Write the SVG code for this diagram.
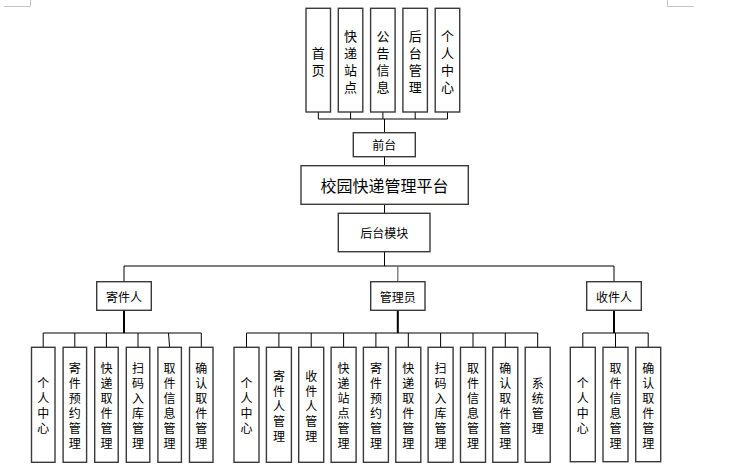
<svg xmlns="http://www.w3.org/2000/svg" width="733" height="470" viewBox="0 0 733 470">
<style>
.box{fill:#fff;stroke:#3a3a3a;stroke-width:1.4}
.t{font-family:"Noto Sans CJK SC","Noto Sans",sans-serif;font-size:12px;fill:#000;text-anchor:middle;dominant-baseline:central}
.tt{font-size:13px}
.big{font-size:16px}
.ln{stroke:#000;stroke-width:1;fill:none}
.lg{stroke:#666;stroke-width:1.2;fill:none}
.lt{stroke:#000;stroke-width:2;fill:none}
.mark{stroke:#c4c4c4;stroke-width:1;fill:none}
</style>
<rect width="733" height="470" fill="#fff"/>
<path class="mark" d="M4,6.5H30.5V0M667.5,0V6.5H694"/>
<g id="connectors">
<path class="ln" d="M318.3,112V119H447.5V112M350.6,112V119M382.9,112V119M415.2,112V119"/>
<path class="ln" d="M384.5,119V132.7M384.5,156.7V165.7M384.5,204.3V213.3M384.5,251.7V266"/>
<path class="ln" d="M124,266H614M124,266V281.7M614,266V281.7"/>
<path class="lg" d="M397.8,266V281.7"/>
<path class="lt" d="M124,310.3V333M397.8,310.3V333M614,310.3V333"/>
<path class="ln" d="M43.2,333H201.3M43.2,333V347.3M74.8,333V347.3M106.4,333V347.3M138,333V347.3M168.5,333L169.6,347.3M201.3,333V347.3"/>
<path class="ln" d="M246.5,333H537.7M246.5,333V347.3M278.9,333V347.3M311.2,333V347.3M343.6,333V347.3M375.9,333V347.3M408.3,333V347.3M440.6,333V347.3M473,333V347.3M505.3,333V347.3M537.7,333V347.3"/>
<path class="ln" d="M582.8,333H648.2M582.8,333V347.3M615.5,333V347.3M648.2,333V347.3"/>
</g>
<g id="n-home"><rect class="box" x="306" y="8.3" width="24.5" height="103.7"/><text class="t tt"><tspan x="318.3" y="51.5">首</tspan><tspan x="318.3" y="68.5">页</tspan></text></g>
<g id="n-station"><rect class="box" x="338.3" y="8.3" width="24.5" height="103.7"/><text class="t tt"><tspan x="350.6" y="34.5">快</tspan><tspan x="350.6" y="51.5">递</tspan><tspan x="350.6" y="68.5">站</tspan><tspan x="350.6" y="85.5">点</tspan></text></g>
<g id="n-notice"><rect class="box" x="370.6" y="8.3" width="24.5" height="103.7"/><text class="t tt"><tspan x="382.9" y="34.5">公</tspan><tspan x="382.9" y="51.5">告</tspan><tspan x="382.9" y="68.5">信</tspan><tspan x="382.9" y="85.5">息</tspan></text></g>
<g id="n-admin"><rect class="box" x="402.9" y="8.3" width="24.5" height="103.7"/><text class="t tt"><tspan x="415.2" y="34.5">后</tspan><tspan x="415.2" y="51.5">台</tspan><tspan x="415.2" y="68.5">管</tspan><tspan x="415.2" y="85.5">理</tspan></text></g>
<g id="n-personal"><rect class="box" x="435.2" y="8.3" width="24.5" height="103.7"/><text class="t tt"><tspan x="447.5" y="34.5">个</tspan><tspan x="447.5" y="51.5">人</tspan><tspan x="447.5" y="68.5">中</tspan><tspan x="447.5" y="85.5">心</tspan></text></g>
<g id="n-front"><rect class="box" x="353.3" y="132.7" width="62" height="24"/><text class="t" x="384.3" y="144.7">前台</text></g>
<g id="n-platform"><rect class="box" x="301" y="165.7" width="167.3" height="38.6"/><text class="t big" x="384.6" y="185">校园快递管理平台</text></g>
<g id="n-backend"><rect class="box" x="338.3" y="213.3" width="91.7" height="38.4"/><text class="t" x="384.2" y="232.5">后台模块</text></g>
<g id="n-sender"><rect class="box" x="96.7" y="281.7" width="54.6" height="28.6"/><text class="t" x="124" y="296">寄件人</text></g>
<g id="n-manager"><rect class="box" x="370.7" y="281.7" width="54.3" height="28.6"/><text class="t" x="397.8" y="296">管理员</text></g>
<g id="n-receiver"><rect class="box" x="586.7" y="281.7" width="54.6" height="28.6"/><text class="t" x="614" y="296">收件人</text></g>
<g id="s1"><rect class="box" x="31.5" y="347.3" width="23.5" height="115"/><text class="t"><tspan x="43.2" y="382.3">个</tspan><tspan x="43.2" y="397.3">人</tspan><tspan x="43.2" y="412.3">中</tspan><tspan x="43.2" y="427.3">心</tspan></text></g>
<g id="s2"><rect class="box" x="63.1" y="347.3" width="23.5" height="115"/><text class="t"><tspan x="74.8" y="367.3">寄</tspan><tspan x="74.8" y="382.3">件</tspan><tspan x="74.8" y="397.3">预</tspan><tspan x="74.8" y="412.3">约</tspan><tspan x="74.8" y="427.3">管</tspan><tspan x="74.8" y="442.3">理</tspan></text></g>
<g id="s3"><rect class="box" x="94.7" y="347.3" width="23.5" height="115"/><text class="t"><tspan x="106.4" y="367.3">快</tspan><tspan x="106.4" y="382.3">递</tspan><tspan x="106.4" y="397.3">取</tspan><tspan x="106.4" y="412.3">件</tspan><tspan x="106.4" y="427.3">管</tspan><tspan x="106.4" y="442.3">理</tspan></text></g>
<g id="s4"><rect class="box" x="126.3" y="347.3" width="23.5" height="115"/><text class="t"><tspan x="138" y="367.3">扫</tspan><tspan x="138" y="382.3">码</tspan><tspan x="138" y="397.3">入</tspan><tspan x="138" y="412.3">库</tspan><tspan x="138" y="427.3">管</tspan><tspan x="138" y="442.3">理</tspan></text></g>
<g id="s5"><rect class="box" x="157.9" y="347.3" width="23.5" height="115"/><text class="t"><tspan x="169.6" y="367.3">取</tspan><tspan x="169.6" y="382.3">件</tspan><tspan x="169.6" y="397.3">信</tspan><tspan x="169.6" y="412.3">息</tspan><tspan x="169.6" y="427.3">管</tspan><tspan x="169.6" y="442.3">理</tspan></text></g>
<g id="s6"><rect class="box" x="189.5" y="347.3" width="23.5" height="115"/><text class="t"><tspan x="201.3" y="367.3">确</tspan><tspan x="201.3" y="382.3">认</tspan><tspan x="201.3" y="397.3">取</tspan><tspan x="201.3" y="412.3">件</tspan><tspan x="201.3" y="427.3">管</tspan><tspan x="201.3" y="442.3">理</tspan></text></g>
<g id="m1"><rect class="box" x="234" y="347.3" width="25" height="115"/><text class="t"><tspan x="246.5" y="382.3">个</tspan><tspan x="246.5" y="397.3">人</tspan><tspan x="246.5" y="412.3">中</tspan><tspan x="246.5" y="427.3">心</tspan></text></g>
<g id="m2"><rect class="box" x="266.4" y="347.3" width="25" height="115"/><text class="t"><tspan x="278.9" y="374.8">寄</tspan><tspan x="278.9" y="389.8">件</tspan><tspan x="278.9" y="404.8">人</tspan><tspan x="278.9" y="419.8">管</tspan><tspan x="278.9" y="434.8">理</tspan></text></g>
<g id="m3"><rect class="box" x="298.7" y="347.3" width="25" height="115"/><text class="t"><tspan x="311.2" y="374.8">收</tspan><tspan x="311.2" y="389.8">件</tspan><tspan x="311.2" y="404.8">人</tspan><tspan x="311.2" y="419.8">管</tspan><tspan x="311.2" y="434.8">理</tspan></text></g>
<g id="m4"><rect class="box" x="331.1" y="347.3" width="25" height="115"/><text class="t"><tspan x="343.6" y="367.3">快</tspan><tspan x="343.6" y="382.3">递</tspan><tspan x="343.6" y="397.3">站</tspan><tspan x="343.6" y="412.3">点</tspan><tspan x="343.6" y="427.3">管</tspan><tspan x="343.6" y="442.3">理</tspan></text></g>
<g id="m5"><rect class="box" x="363.4" y="347.3" width="25" height="115"/><text class="t"><tspan x="375.9" y="367.3">寄</tspan><tspan x="375.9" y="382.3">件</tspan><tspan x="375.9" y="397.3">预</tspan><tspan x="375.9" y="412.3">约</tspan><tspan x="375.9" y="427.3">管</tspan><tspan x="375.9" y="442.3">理</tspan></text></g>
<g id="m6"><rect class="box" x="395.8" y="347.3" width="25" height="115"/><text class="t"><tspan x="408.3" y="367.3">快</tspan><tspan x="408.3" y="382.3">递</tspan><tspan x="408.3" y="397.3">取</tspan><tspan x="408.3" y="412.3">件</tspan><tspan x="408.3" y="427.3">管</tspan><tspan x="408.3" y="442.3">理</tspan></text></g>
<g id="m7"><rect class="box" x="428.1" y="347.3" width="25" height="115"/><text class="t"><tspan x="440.6" y="367.3">扫</tspan><tspan x="440.6" y="382.3">码</tspan><tspan x="440.6" y="397.3">入</tspan><tspan x="440.6" y="412.3">库</tspan><tspan x="440.6" y="427.3">管</tspan><tspan x="440.6" y="442.3">理</tspan></text></g>
<g id="m8"><rect class="box" x="460.5" y="347.3" width="25" height="115"/><text class="t"><tspan x="473" y="367.3">取</tspan><tspan x="473" y="382.3">件</tspan><tspan x="473" y="397.3">信</tspan><tspan x="473" y="412.3">息</tspan><tspan x="473" y="427.3">管</tspan><tspan x="473" y="442.3">理</tspan></text></g>
<g id="m9"><rect class="box" x="492.8" y="347.3" width="25" height="115"/><text class="t"><tspan x="505.3" y="367.3">确</tspan><tspan x="505.3" y="382.3">认</tspan><tspan x="505.3" y="397.3">取</tspan><tspan x="505.3" y="412.3">件</tspan><tspan x="505.3" y="427.3">管</tspan><tspan x="505.3" y="442.3">理</tspan></text></g>
<g id="m10"><rect class="box" x="525.2" y="347.3" width="25" height="115"/><text class="t"><tspan x="537.7" y="382.3">系</tspan><tspan x="537.7" y="397.3">统</tspan><tspan x="537.7" y="412.3">管</tspan><tspan x="537.7" y="427.3">理</tspan></text></g>
<g id="r1"><rect class="box" x="570.3" y="347.3" width="25" height="114.4"/><text class="t"><tspan x="582.8" y="382.3">个</tspan><tspan x="582.8" y="397.3">人</tspan><tspan x="582.8" y="412.3">中</tspan><tspan x="582.8" y="427.3">心</tspan></text></g>
<g id="r2"><rect class="box" x="603" y="347.3" width="25" height="114.4"/><text class="t"><tspan x="615.5" y="367.3">取</tspan><tspan x="615.5" y="382.3">件</tspan><tspan x="615.5" y="397.3">信</tspan><tspan x="615.5" y="412.3">息</tspan><tspan x="615.5" y="427.3">管</tspan><tspan x="615.5" y="442.3">理</tspan></text></g>
<g id="r3"><rect class="box" x="635.7" y="347.3" width="25" height="114.4"/><text class="t"><tspan x="648.2" y="367.3">确</tspan><tspan x="648.2" y="382.3">认</tspan><tspan x="648.2" y="397.3">取</tspan><tspan x="648.2" y="412.3">件</tspan><tspan x="648.2" y="427.3">管</tspan><tspan x="648.2" y="442.3">理</tspan></text></g>
</svg>
